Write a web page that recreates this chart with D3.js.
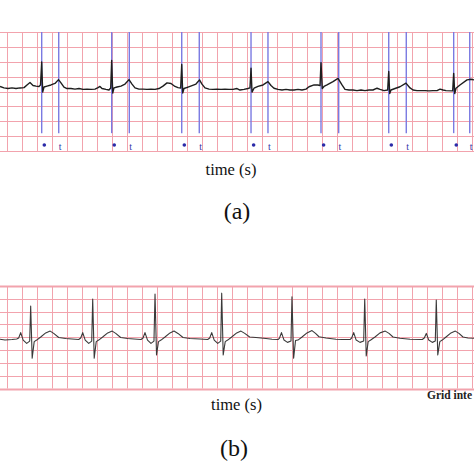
<!DOCTYPE html>
<html>
<head>
<meta charset="utf-8">
<script src="https://cdn.jsdelivr.net/npm/d3@7/dist/d3.min.js"></script>
<style>
  html, body { margin: 0; padding: 0; background: #fff; }
  svg { display: block; }
</style>
</head>
<body>
<div id="chart"></div>
<script>
// ---------- DATA ----------
// Panel (a): ECG trace, time (s) and amplitude (mV)
const ecgA_t = [0,0.053,0.107,0.16,0.213,0.267,0.32,0.36,0.40,0.44,0.48,0.52,0.54,0.556,0.569,0.587,0.627,0.68,0.733,0.78,0.813,0.853,0.893,0.947,1.0,1.053,1.107,1.16,1.213,1.267,1.307,1.333,1.36,1.413,1.453,1.476,1.489,1.503,1.52,1.56,1.613,1.667,1.72,1.76,1.8,1.853,1.907,1.96,2.013,2.067,2.12,2.173,2.227,2.28,2.333,2.373,2.409,2.423,2.436,2.453,2.507,2.56,2.613,2.66,2.693,2.733,2.787,2.84,2.893,2.947,3.0,3.053,3.107,3.16,3.2,3.253,3.307,3.333,3.347,3.36,3.387,3.44,3.507,3.573,3.613,3.653,3.707,3.76,3.813,3.867,3.92,3.973,4.027,4.08,4.12,4.187,4.24,4.267,4.28,4.297,4.32,4.36,4.44,4.507,4.56,4.6,4.653,4.707,4.76,4.813,4.867,4.92,4.973,5.027,5.067,5.12,5.169,5.183,5.196,5.213,5.267,5.333,5.413,5.467,5.507,5.56,5.613,5.667,5.72,5.773,5.827,5.867,5.907,5.947,6.036,6.049,6.063,6.08,6.133,6.227,6.28,6.32];
const ecgA_v = [0.17,0.12,0.10,0.12,0.10,0.12,0.13,0.22,0.30,0.20,0.18,0.17,0.22,0.99,-0.02,0.15,0.18,0.22,0.27,0.40,0.29,0.15,0.10,0.10,0.08,0.10,0.07,0.08,0.07,0.08,0.13,0.17,0.10,0.07,0.05,0.12,1.04,-0.05,0.12,0.15,0.18,0.25,0.40,0.25,0.12,0.08,0.08,0.07,0.08,0.07,0.10,0.18,0.29,0.27,0.17,0.13,0.12,0.91,-0.05,0.10,0.15,0.20,0.25,0.39,0.25,0.12,0.08,0.07,0.08,0.07,0.08,0.07,0.07,0.10,0.05,0.07,0.10,0.12,0.78,-0.02,0.11,0.17,0.22,0.33,0.20,0.11,0.07,0.05,0.07,0.05,0.05,0.07,0.05,0.08,0.16,0.22,0.22,0.20,0.97,0.10,0.17,0.22,0.33,0.44,0.22,0.07,0.05,0.05,0.03,0.05,0.03,0.05,0.05,0.11,0.07,0.03,0.05,0.67,-0.07,0.05,0.10,0.16,0.28,0.12,0.05,0.03,0.03,0.03,0.02,0.03,0.03,0.08,0.05,0.03,0.02,0.61,-0.07,0.11,0.22,0.39,0.41,0.39];
// Panel (a): annotated R-peak and T-wave times (s)
const rMarksA = [0.556,1.489,2.423,3.347,4.28,5.183,6.049];
const tMarksA = [0.783,1.724,2.657,3.573,4.516,5.417,6.263];
const tMarkLabel = "t";

// Panel (b): ECG trace, time (s) and amplitude (mV)
const ecgB_t = [0,0.067,0.16,0.223,0.249,0.276,0.309,0.356,0.396,0.409,0.429,0.456,0.489,0.543,0.609,0.669,0.716,0.783,0.876,0.96,1.049,1.076,1.103,1.136,1.183,1.223,1.236,1.256,1.283,1.316,1.369,1.436,1.496,1.543,1.609,1.703,1.787,1.88,1.907,1.933,1.967,2.013,2.053,2.067,2.087,2.113,2.147,2.2,2.267,2.32,2.373,2.44,2.533,2.667,2.769,2.796,2.823,2.856,2.903,2.943,2.956,2.976,3.003,3.036,3.089,3.156,3.213,3.263,3.329,3.413,3.547,3.627,3.707,3.727,3.753,3.787,3.833,3.88,3.893,3.915,3.94,3.973,4.027,4.093,4.16,4.207,4.253,4.347,4.48,4.56,4.667,4.689,4.716,4.749,4.8,4.849,4.863,4.883,4.909,4.943,5.0,5.067,5.137,5.187,5.24,5.333,5.467,5.6,5.631,5.657,5.684,5.717,5.764,5.804,5.817,5.837,5.864,5.897,5.947,6.013,6.071,6.12,6.173,6.24,6.32];
const ecgB_v = [-0.08,-0.11,-0.09,-0.07,-0.03,0.18,-0.11,-0.24,-0.15,1.22,-0.82,-0.17,-0.11,0.01,0.17,0.24,0.15,-0.01,-0.05,-0.07,-0.09,-0.03,0.18,-0.11,-0.24,-0.15,1.49,-0.82,-0.17,-0.11,0.01,0.17,0.24,0.15,-0.01,-0.05,-0.07,-0.09,-0.03,0.18,-0.11,-0.24,-0.15,1.69,-0.69,-0.17,-0.11,0.01,0.17,0.24,0.15,-0.01,-0.05,-0.07,-0.09,-0.03,0.18,-0.11,-0.24,-0.15,1.72,-0.69,-0.17,-0.11,0.01,0.17,0.24,0.15,0.01,-0.01,-0.05,-0.08,-0.09,-0.03,0.18,-0.11,-0.20,-0.15,1.58,-0.82,-0.13,-0.11,0.01,0.17,0.26,0.15,0.02,-0.03,-0.08,-0.09,-0.09,-0.03,0.18,-0.11,-0.20,-0.15,1.49,-0.73,-0.17,-0.11,0.01,0.17,0.24,0.15,0.01,-0.04,-0.08,-0.09,-0.09,-0.03,0.15,-0.11,-0.20,-0.15,1.45,-0.69,-0.17,-0.11,0.01,0.17,0.24,0.15,0.01,-0.03,-0.04];

// Text
const axisTitle = "time (s)";
const panelLabels = ["(a)", "(b)"];
const gridNote = "Grid inte";

// Grid spacing (data units)
const gridStepT = 0.2;   // s
const gridStepV = 0.5;   // mV
const gridOriginT = 0.0933;

// ---------- DRAW ----------
const W = 474, H = 474;
const svg = d3.select("#chart").append("svg").attr("width", W).attr("height", H);

const x = d3.scaleLinear().domain([0, 6.32]).range([0, 474]);
const yA = d3.scaleLinear().domain([-2, 2]).range([151, 32]);
const yB = d3.scaleLinear().domain([-2, 2]).range([388.5, 286]);

const pink = "#f2a3ad";
const gridT = d3.range(gridOriginT, 6.32, gridStepT);
const gridV = d3.range(-2, 2.001, gridStepV);

function drawGrid(g, y, borderW) {
  g.selectAll("line.h").data(gridV).join("line")
    .attr("x1", 0).attr("x2", W)
    .attr("y1", d => Math.round(y(d)) + 0.5).attr("y2", d => Math.round(y(d)) + 0.5)
    .attr("stroke", pink)
    .attr("stroke-width", (d, i) => (i === 0 || i === gridV.length - 1) ? borderW : 1);
  g.selectAll("line.v").data(gridT).join("line")
    .attr("x1", d => Math.round(x(d)) + 0.5).attr("x2", d => Math.round(x(d)) + 0.5)
    .attr("y1", y(2)).attr("y2", y(-2))
    .attr("stroke", pink).attr("stroke-width", 1);
}

// Panel (a)
const gA = svg.append("g");
drawGrid(gA.append("g"), yA, 1.2);

gA.append("g").selectAll("line").data(rMarksA.concat(tMarksA)).join("line")
  .attr("x1", d => x(d)).attr("x2", d => x(d))
  .attr("y1", yA(2)).attr("y2", yA(-1.4))
  .attr("stroke", "#7a7ae2").attr("stroke-width", 1.4);

const lineA = d3.line().x(d => x(d[0])).y(d => yA(d[1]));
gA.append("path")
  .datum(ecgA_t.map((t, i) => [t, ecgA_v[i]]))
  .attr("d", lineA).attr("fill", "none")
  .attr("stroke", "#1e1e1e").attr("stroke-width", 1.4).attr("stroke-linejoin", "round");

gA.append("g").selectAll("circle").data(rMarksA).join("circle")
  .attr("cx", d => x(d) + 2.6).attr("cy", yA(-1.8)).attr("r", 1.8)
  .attr("fill", "#2a2aa8");
gA.append("g").selectAll("text").data(tMarksA).join("text")
  .attr("x", d => x(d) + 1.3).attr("y", 149.5)
  .attr("text-anchor", "middle")
  .attr("font-family", "Liberation Serif, serif").attr("font-size", 10)
  .attr("fill", "#3838a8").text(tMarkLabel);

// Panel (b)
const gB = svg.append("g");
drawGrid(gB.append("g"), yB, 2);
const lineB = d3.line().x(d => x(d[0])).y(d => yB(d[1]));
gB.append("path")
  .datum(ecgB_t.map((t, i) => [t, ecgB_v[i]]))
  .attr("d", lineB).attr("fill", "none")
  .attr("stroke", "#3a3a3a").attr("stroke-width", 1.1).attr("stroke-linejoin", "round");

// Texts
const serif = "Liberation Serif, Times New Roman, serif";
svg.append("text").attr("x", 231).attr("y", 175).attr("text-anchor", "middle")
  .attr("font-family", serif).attr("font-size", 16.5).attr("fill", "#111").text(axisTitle);
svg.append("text").attr("x", 237).attr("y", 219).attr("text-anchor", "middle")
  .attr("font-family", serif).attr("font-size", 24).attr("fill", "#111").text(panelLabels[0]);
svg.append("text").attr("x", 236.5).attr("y", 410).attr("text-anchor", "middle")
  .attr("font-family", serif).attr("font-size", 16.5).attr("fill", "#111").text(axisTitle);
svg.append("text").attr("x", 234).attr("y", 456).attr("text-anchor", "middle")
  .attr("font-family", serif).attr("font-size", 24).attr("fill", "#111").text(panelLabels[1]);
svg.append("text").attr("x", 427).attr("y", 399).attr("text-anchor", "start")
  .attr("font-family", serif).attr("font-size", 11.5).attr("font-weight", 600).attr("fill", "#222").text(gridNote);
</script>
</body>
</html>
